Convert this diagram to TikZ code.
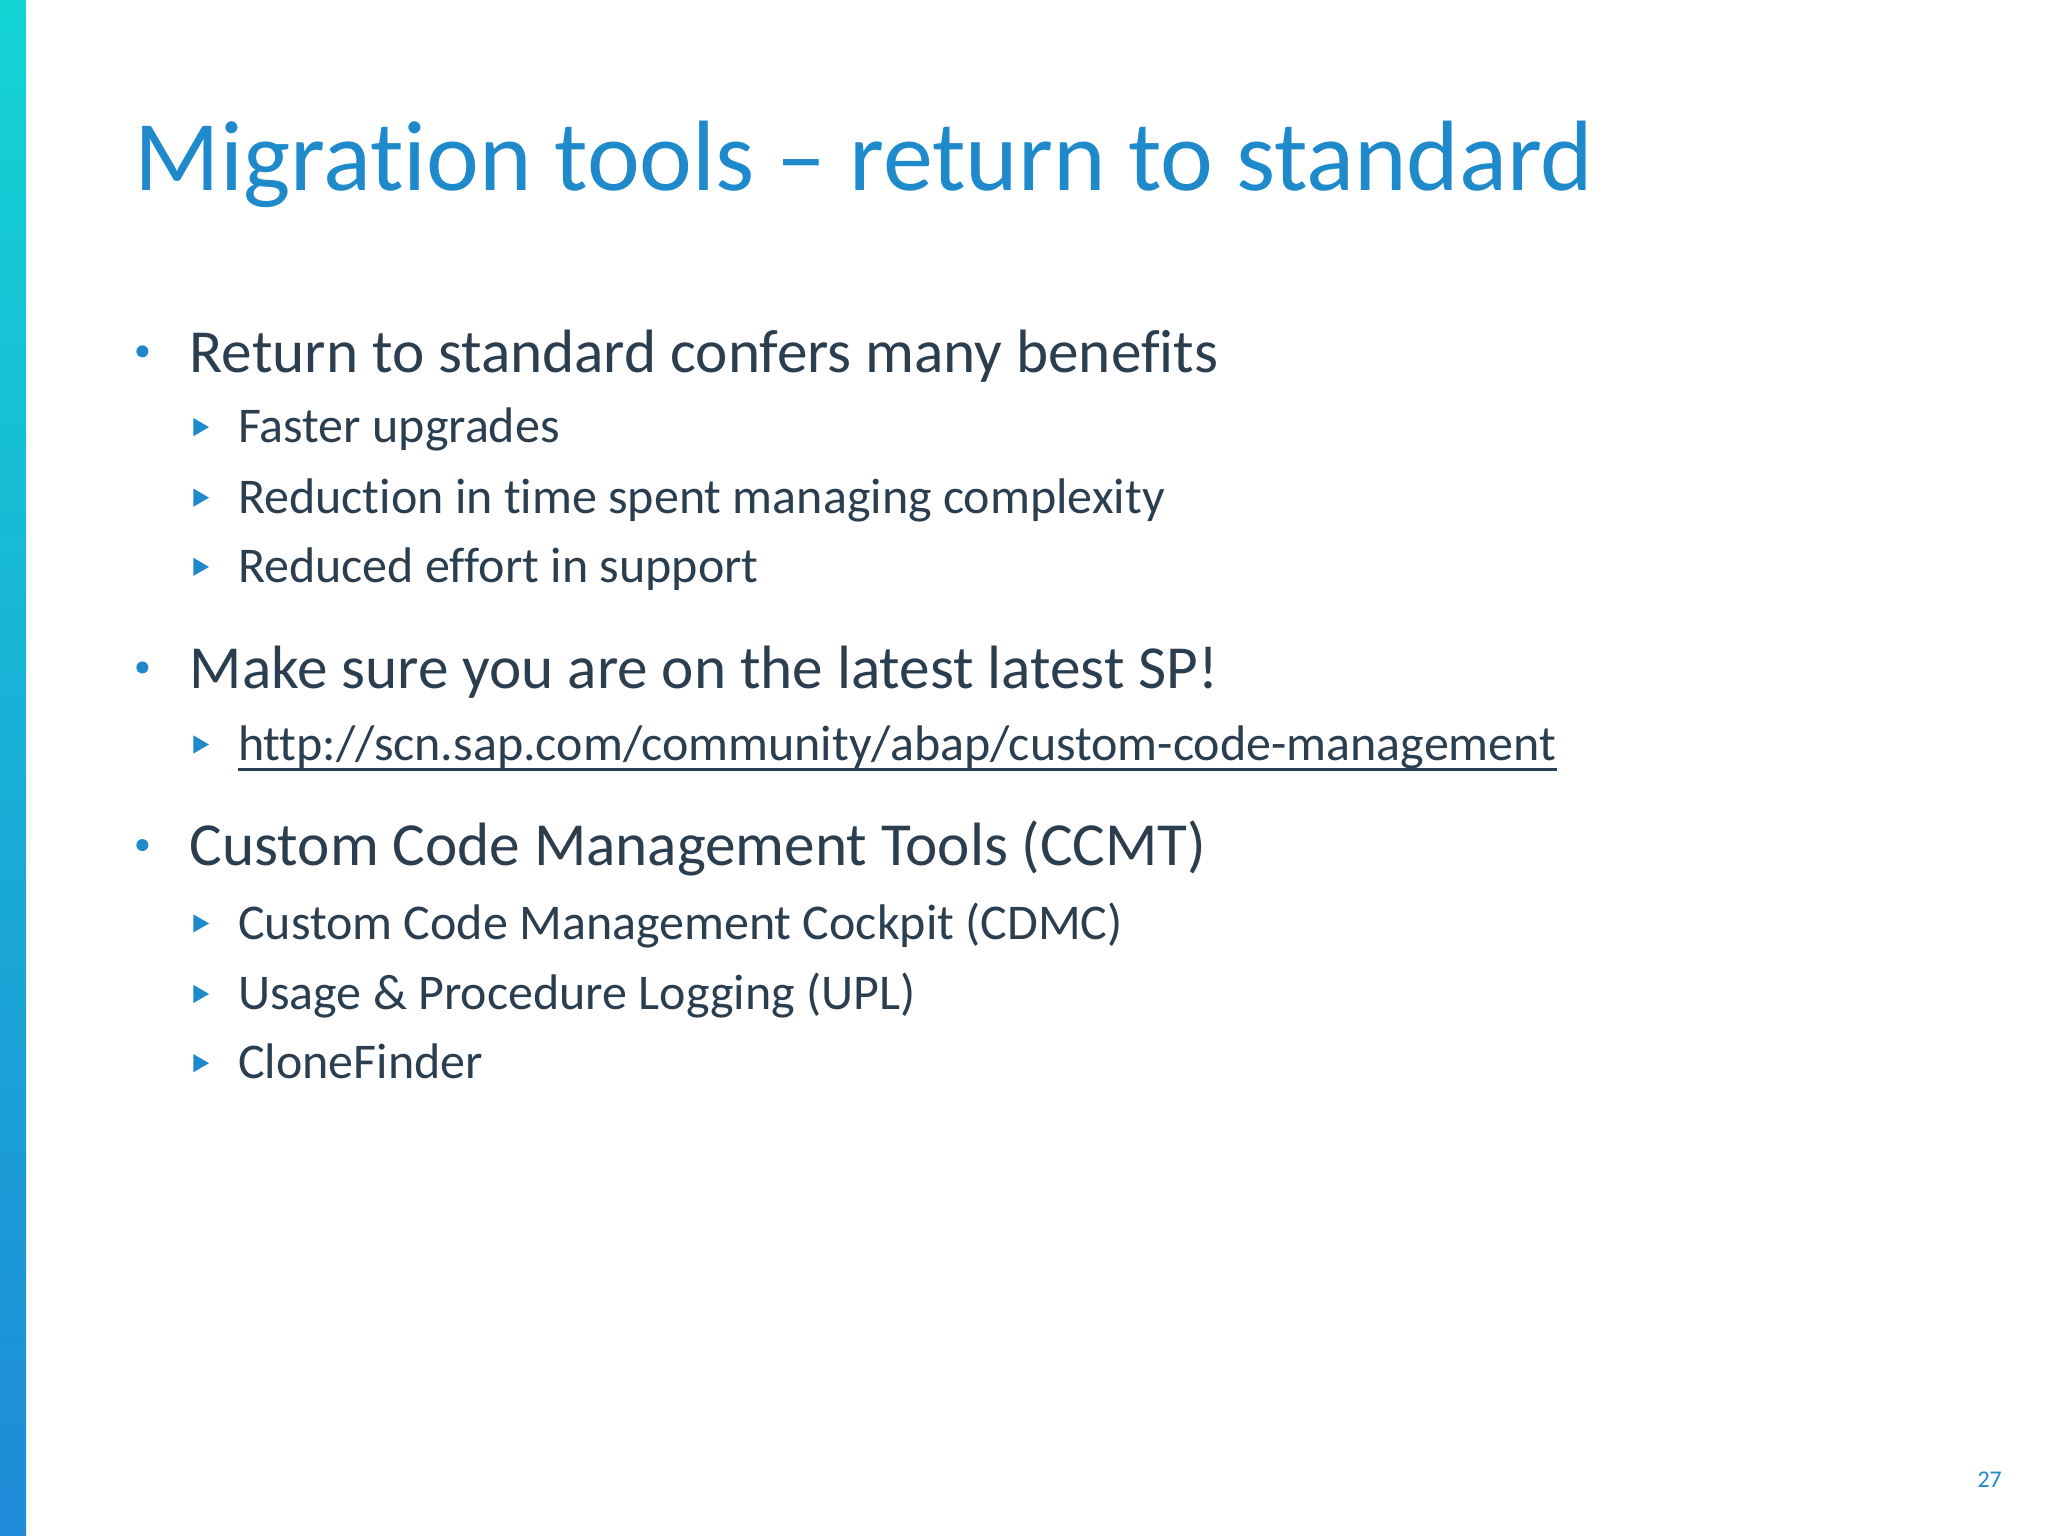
\documentclass[tikz,border=0pt]{standalone}
\usepackage{fontspec}
\setmainfont[Ligatures=NoCommon]{Carlito}
\definecolor{titleblue}{HTML}{1F8ACB}
\definecolor{txt}{HTML}{2B3E50}
\definecolor{barTop}{HTML}{14D4D4}
\definecolor{barBot}{HTML}{1E8AD8}
\begin{document}
\begin{tikzpicture}[x=0.653pt,y=-0.653pt,
  lone/.style={anchor=base west,inner sep=0,text=txt,font=\fontsize{30.6}{36}\selectfont},
  ltwo/.style={anchor=base west,inner sep=0,text=txt,font=\fontsize{25}{30}\selectfont},
  dotb/.style={circle,fill=titleblue,inner sep=0,minimum size=6pt},
  tri/.style={fill=titleblue}]
\useasboundingbox (0,0) rectangle (1568,1176);
\fill[white] (0,0) rectangle (1568,1176);
\shade[top color=barTop,bottom color=barBot] (0,0) rectangle (20,1176);
\node[anchor=base west,inner sep=0,text=titleblue,font=\fontsize{50}{60}\selectfont] (title) at (103,146) {Migration tools – return to standard};
\foreach \n/\y/\t in {a/285/Return to standard confers many benefits,b/527/Make sure you are on the latest latest SP!,c/663/Custom Code Management Tools (CCMT)}{
  \node[dotb] (d\n) at (109,\y-16) {};
  \node[lone] (t\n) at (145,\y) {\t};
}
\foreach \n/\y/\t in {a/339/Faster upgrades,b/393/Reduction in time spent managing complexity,c/446/Reduced effort in support,e/719/Custom Code Management Cockpit (CDMC),f/773/Usage \& Procedure Logging (UPL),g/826/CloneFinder}{
  \fill[tri] (148,\y-19) -- (160,\y-12) -- (148,\y-5) -- cycle;
  \node[ltwo] (s\n) at (182,\y) {\t};
}
\fill[tri] (148,582-19) -- (160,582-12) -- (148,582-5) -- cycle;
\node[ltwo] (sd) at (182,582) {http://scn.sap.com/community/abap/custom-code-management};
\draw[txt,line width=1.2pt] (sd.base west)++(0,7) -- ([yshift=-7*0.653pt]sd.base east);
\node[anchor=base east,inner sep=0,text=titleblue,font=\fontsize{12}{14}\selectfont] (pg) at (1533,1139) {27};
\end{tikzpicture}
\end{document}
